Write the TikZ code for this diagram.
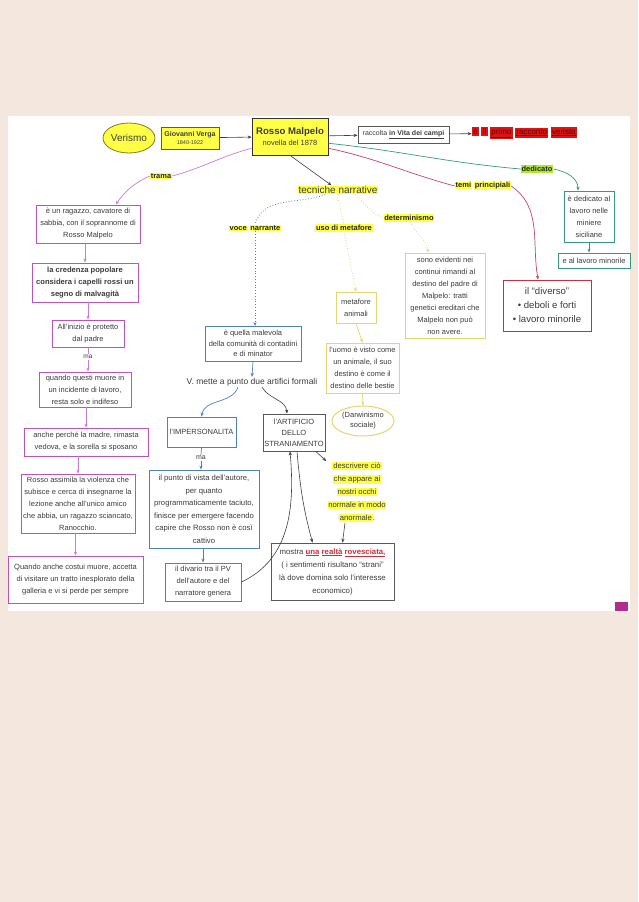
\documentclass[tikz,border=0pt]{standalone}
\usepackage{fontspec}
\setmainfont{Liberation Sans}
\usetikzlibrary{arrows.meta,positioning,shapes.geometric}
\definecolor{pagebg}{RGB}{244,231,222}
\definecolor{ink}{RGB}{60,60,60}
\definecolor{mag}{RGB}{192,80,192}
\definecolor{magln}{RGB}{204,120,220}
\definecolor{blu}{RGB}{79,129,189}
\definecolor{hly}{RGB}{255,255,70}
\definecolor{ybd}{RGB}{228,214,110}
\definecolor{tealc}{RGB}{50,155,125}
\definecolor{redb}{RGB}{205,45,60}
\definecolor{redln}{RGB}{195,70,100}
\definecolor{redhl}{RGB}{222,20,20}
\definecolor{limec}{RGB}{175,235,40}
\definecolor{olivec}{RGB}{130,120,30}
\definecolor{pgmark}{RGB}{175,45,140}
\newcommand{\hlt}[1]{{\setlength{\fboxsep}{0.8pt}\colorbox{hly}{#1}}}
\newcommand{\hlr}[1]{{\setlength{\fboxsep}{1.4pt}\colorbox{redhl}{#1}}}
\tikzset{
  >={Stealth[length=4pt,width=3.2pt]},
  every node/.style={font=\fontsize{7.5}{12}\selectfont,text=ink},
  blk/.style={draw,line width=0.8pt,fill=white,align=center,inner sep=1pt},
  magblk/.style={blk,draw=mag},
  blublk/.style={blk,draw=blu},
  yblk/.style={blk,draw=ybd},
  gryblk/.style={blk,draw=black!65},
  tealblk/.style={blk,draw=tealc},
  lbl/.style={inner sep=0pt,font=\fontsize{7.5}{12}\selectfont\bfseries,text=black!85},
  flow/.style={->,line width=0.6pt,draw=black!75},
  magflow/.style={->,line width=0.7pt,draw=magln},
  bluflow/.style={->,line width=0.7pt,draw=blu},
  yflow/.style={->,line width=0.7pt,draw=ybd},
  dotb/.style={line width=0.8pt,draw=blu,dotted},
  doty/.style={line width=0.8pt,draw=ybd,dotted},
}

\begin{document}
\begin{tikzpicture}[x=1pt,y=1pt]
  \fill[pagebg] (0,0) rectangle (638,-902);
  \useasboundingbox (0,0) rectangle (638,-902);
  \fill[white] (8,-116) rectangle (630,-611);
  \fill[pgmark] (615,-602) rectangle (628,-611);

  % ---------------- top row
  \node[ellipse,draw=olivec,fill=hly,line width=0.8pt,minimum width=52pt,minimum height=30pt,inner sep=0pt,font=\fontsize{10}{12}\selectfont] (veri) at (129,-138) {Verismo};
  \node[gryblk,fill=hly,minimum width=58pt,minimum height=22pt,font=\fontsize{7}{8.5}\selectfont] (verga) at (190,-138) {\textbf{Giovanni Verga}\\{\fontsize{5.5}{6}\selectfont 1840-1922}};
  \node[gryblk,draw=black!80,fill=hly,minimum width=76pt,minimum height=37pt,font=\fontsize{7.5}{11}\selectfont] (rosso) at (290,-136.5) {{\fontsize{9.6}{12}\selectfont\bfseries Rosso Malpelo}\\novella del 1878};
  \node[gryblk,minimum width=91pt,minimum height=17pt,font=\fontsize{7}{9}\selectfont] (racc) at (403.5,-134.5) {raccolta \textbf{\underline{in Vita dei campi}}};
  \node[inner sep=0pt,font=\fontsize{8}{9}\selectfont,text=black!60!red] (primo) at (524.5,-133) {\hlr{è} \hlr{il} \hlr{\underline{primo}} \hlr{\underline{racconto}} \hlr{\underline{verista}}};
  \draw[flow] (verga) -- (rosso);
  \draw[flow] (rosso) -- (racc);
  \draw[flow] (racc) -- (primo);

  % ---------------- trama
  \node[lbl] (trama) at (161,-176) {\hlt{trama}};
  \node[magblk,minimum width=104pt,minimum height=38pt] (L1) at (88,-224) {è un ragazzo, cavatore di\\sabbia, con il soprannome di\\Rosso Malpelo};
  \node[magblk,minimum width=106pt,minimum height=39pt,font=\fontsize{7.6}{12}\selectfont\bfseries] (L2) at (85,-282.5) {la credenza popolare\\considera i capelli rossi un\\segno di malvagità};
  \node[magblk,minimum width=72pt,minimum height=27pt] (L3) at (88,-333.5) {All'inizio è protetto\\dal padre};
  \node[inner sep=1pt,font=\fontsize{6.5}{8}\selectfont] (ma1) at (88,-357) {ma};
  \node[magblk,minimum width=92pt,minimum height=35pt] (L4) at (85,-389.5) {quando questi muore in\\un incidente di lavoro,\\resta solo e indifeso};
  \node[magblk,minimum width=124pt,minimum height=28pt] (L5) at (86,-442) {anche perché la madre, rimasta\\vedova, e la sorella si sposano};
  \node[magblk,minimum width=114pt,minimum height=59pt] (L6) at (78,-503.5) {Rosso assimila la violenza che\\subisce e cerca di insegnarne la\\lezione anche all'unico amico\\che abbia, un ragazzo sciancato,\\Ranocchio.};
  \node[magblk,minimum width=135pt,minimum height=47pt] (L7) at (75.5,-579.5) {Quando anche costui muore, accetta\\di visitare un tratto inesplorato della\\galleria e vi si perde per sempre};
  \draw[magln,line width=0.7pt] (rosso.197) to[out=195,in=15] (trama.east);
  \draw[magflow] (trama.west) to[out=205,in=55] (L1.35);
  \draw[magflow] (L2.north |- L1.south) -- (L2.north);
  \draw[magflow] (L3.north |- L2.south) -- (L3.north);
  \draw[magln,line width=0.7pt] (L3.south) -- (ma1.north);
  \draw[magflow] (ma1.south) -- (ma1.south |- L4.north);
  \draw[magflow] (L5.north |- L4.south) -- (L5.north);
  \draw[magflow] (L6.north |- L5.south) -- (L6.north);
  \draw[magflow] (L7.north |- L6.south) -- (L7.north);

  % ---------------- dedicato / temi
  \node[inner sep=0pt,font=\fontsize{7.5}{9}\selectfont\bfseries,text=black!85] (ded) at (537,-169) {{\setlength{\fboxsep}{0.8pt}\colorbox{limec}{dedicato}}};
  \node[tealblk,minimum width=50pt,minimum height=51pt] (dedbox) at (589,-216.5) {è dedicato al\\lavoro nelle\\miniere\\siciliane};
  \node[tealblk,minimum width=72pt,minimum height=15pt] (minor) at (594,-260.5) {e al lavoro minorile};
  \node[lbl] (temi) at (483,-186) {\hlt{temi}\ \hlt{principiali}};
  \node[blk,draw=redb,minimum width=88pt,minimum height=51pt,font=\fontsize{9.6}{14}\selectfont] (diverso) at (547,-305.5) {il “diverso”\\• deboli e forti\\• lavoro minorile};
  \draw[tealc,line width=0.7pt] (rosso.-10) to[out=-6,in=175] (ded.west);
  \draw[->,tealc,line width=0.7pt] (ded.east) to[out=-10,in=90] (dedbox.113);
  \draw[->,tealc,line width=0.7pt] (dedbox.south) -- (dedbox.south |- minor.north);
  \draw[redln,line width=0.7pt] (rosso.-17) to[out=-12,in=165] (temi.west);
  \draw[->,redln,line width=0.7pt] (temi.east) to[out=-35,in=100] (diverso.109);

  % ---------------- tecniche narrative
  \node[inner sep=0pt,font=\fontsize{10}{12}\selectfont] (tecn) at (338,-190) {\hlt{tecniche narrative}};
  \node[lbl] (voce) at (255,-228) {\hlt{voce}\ \hlt{narrante}};
  \node[lbl] (uso) at (344,-228) {\hlt{uso di metafore}};
  \node[lbl] (deter) at (409,-218) {\hlt{determinismo}};
  \draw[flow] (rosso.south) -- (tecn);
  \draw[dotb] (tecn.200) to[out=200,in=75] (voce.north);
  \draw[dotb,->] (voce.south) -- (voce.south |- 0,-326);
  \draw[doty] (tecn.-100) -- (uso.north);
  \draw[doty] (tecn.-15) to[out=-40,in=160] (deter.west);

  % ---------------- metafore
  \node[yblk,minimum width=40pt,minimum height=31pt] (meta) at (356,-307.5) {metafore\\animali};
  \node[yblk,minimum width=73pt,minimum height=50pt] (uomo) at (362.5,-368) {l'uomo è visto come\\un animale, il suo\\destino è come il\\destino delle bestie};
  \node[ellipse,draw=ybd,line width=1pt,fill=white,minimum width=62pt,minimum height=30pt,inner sep=0pt,align=center,font=\fontsize{7.5}{10}\selectfont] (darw) at (363,-421) {(Darwinismo\\sociale)};
  \node[yblk,minimum width=80pt,minimum height=85pt] (evid) at (445,-295.5) {sono evidenti nei\\continui rimandi al\\destino del padre di\\Malpelo: tratti\\genetici ereditari che\\Malpelo non può\\non avere.};
  \draw[doty,->] (uso.south) -- (meta.north);
  \draw[doty,->] (deter.-70) to[out=-70,in=95] ([xshift=-17pt]evid.north);
  \draw[yflow] (meta.south) -- (uomo.north);
  \draw[yflow] (uomo.south) -- (darw.north);

  % ---------------- voce narrante
  \node[blublk,minimum width=96pt,minimum height=35pt,font=\fontsize{7.5}{10.5}\selectfont] (malev) at (253,-343.5) {è quella malevola\\della comunità di contadini\\e di minator};
  \node[inner sep=1pt,font=\fontsize{8.5}{10}\selectfont] (vmette) at (252,-382) {V.\ mette a punto due artifici formali};
  \node[blublk,minimum width=69pt,minimum height=30pt] (impers) at (201.5,-432) {l'IMPERSONALITA};
  \node[gryblk,minimum width=62pt,minimum height=37pt,font=\fontsize{7.5}{11}\selectfont] (stran) at (294,-432.5) {l'ARTIFICIO\\DELLO\\STRANIAMENTO};
  \node[inner sep=1pt,font=\fontsize{7}{8}\selectfont] (ma2) at (201,-458) {ma};
  \node[blublk,minimum width=110pt,minimum height=78pt,font=\fontsize{7.7}{12.5}\selectfont] (punto) at (204,-509) {il punto di vista dell'autore,\\per quanto\\programmaticamente taciuto,\\finisce per emergere facendo\\capire che Rosso non è così\\cattivo};
  \node[blublk,minimum width=76pt,minimum height=38pt] (divario) at (203,-582) {il divario tra il PV\\dell'autore e del\\narratore genera};
  \node[inner sep=1pt,align=center,font=\fontsize{7.7}{13}\selectfont] (desc) at (357,-492) {\hlt{descrivere ciò}\\\hlt{che appare ai}\\\hlt{nostri occhi}\\\hlt{normale in modo}\\\hlt{anormale}.};
  \node[gryblk,minimum width=123pt,minimum height=57pt,font=\fontsize{7.8}{13}\selectfont] (mostra) at (332.5,-571.5) {mostra \textcolor{redb}{\bfseries\underline{una} \underline{realtà} \underline{rovesciata,}}\\( i sentimenti risultano “strani”\\là dove domina solo l'interesse\\economico)};
  \draw[bluflow] (malev.south) -- (vmette.north);
  \draw[bluflow] ([xshift=-14pt]vmette.south) to[out=-110,in=80] (impers.north);
  \draw[flow] ([xshift=10pt]vmette.south) to[out=-60,in=95] ([xshift=-7pt]stran.north);
  \draw[blu,line width=0.7pt] (impers.south) -- (ma2.north);
  \draw[bluflow] (ma2.south) -- (ma2.south |- punto.north);
  \draw[bluflow] (divario.north |- punto.south) -- (divario.north);
  \draw[flow] (divario.east) to[out=25,in=-85] ([xshift=-4pt]stran.south);
  \draw[flow] (stran.-41) -- (desc.north west);
  \draw[flow] ([xshift=3pt]stran.south) to[out=-85,in=105] ([xshift=-20pt]mostra.north);
  \draw[flow] ([xshift=-12pt]desc.south) -- ([xshift=10pt]mostra.north);
\end{tikzpicture}
\end{document}
